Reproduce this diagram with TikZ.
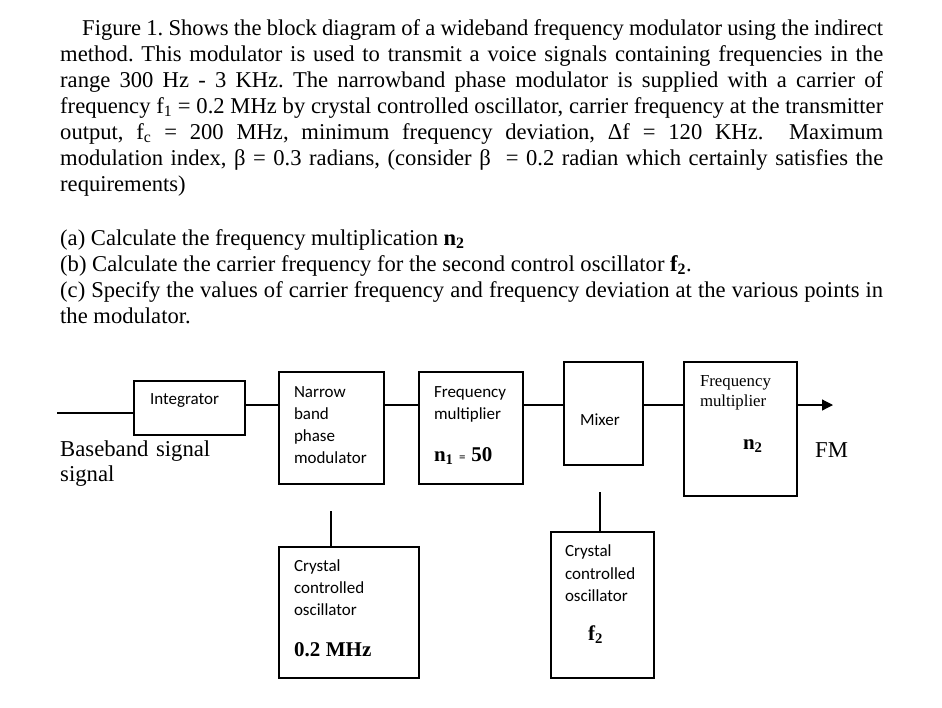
\documentclass[tikz,border=0pt]{standalone}
\usepackage{fontspec}
\setmainfont{Liberation Serif}
\newfontfamily\boxfont{Carlito}
\usetikzlibrary{positioning}
\usetikzlibrary{arrows.meta}
\hyphenpenalty=10000
\exhyphenpenalty=10000
\frenchspacing
\newcommand\boldval[1]{{\rmfamily\bfseries\fontsize{21}{21}\selectfont #1}}

\begin{document}
\begin{tikzpicture}[x=1pt,y=-1pt]

\tikzstyle{block}=[rectangle, draw, line width=1.2pt, inner sep=0pt, align=left, text height=0pt, font=\boxfont\fontsize{17}{22.3}\selectfont]
\tikzstyle{bodytext}=[inner sep=0pt, anchor=base west, font=\fontsize{22.6}{26}\selectfont]
\tikzstyle{wire}=[line width=1.2pt]

\useasboundingbox (0,0) rectangle (942,707);

% text of the task
\node[bodytext, text width=823pt, align=justify] (intro) at (60,35) {\hspace*{22pt}Figure 1. Shows the block diagram of a wideband frequency modulator using the indirect\linebreak
method. This modulator is used to transmit a voice signals containing frequencies in the\linebreak
range 300 Hz - 3 KHz. The narrowband phase modulator is supplied with a carrier of\linebreak
frequency f\textsubscript{1} = 0.2 MHz by crystal controlled oscillator, carrier frequency at the transmitter\linebreak
output, f\textsubscript{c} = 200 MHz, minimum frequency deviation, Δf = 120 KHz.\ \ Maximum\linebreak
modulation index, β = 0.3 radians, (consider β\ \ = 0.2 radian which certainly satisfies the\linebreak
requirements)};
\node[bodytext, text width=823pt, align=justify] (tasks) at (60,245) {(a) Calculate the frequency multiplication \textbf{n\textsubscript{2}}\\
(b) Calculate the carrier frequency for the second control oscillator \textbf{f\textsubscript{2}}.\\
(c) Specify the values of carrier frequency and frequency deviation at the various points in\linebreak
the modulator.};

% blocks
\node[block, minimum width=111pt, minimum height=54pt, text width=79pt, text depth=8pt] (integ) at (189.5,408) {Integrator};
\node[block, minimum width=105pt, minimum height=112pt, text width=75pt, text depth=62pt] (narrow) at (331.5,428) {Narrow\\band\\phase\\modulator};
\node[block, minimum width=104pt, minimum height=112pt, text width=74pt, text depth=62pt] (freq1) at (471,428) {Frequency\\multiplier\\[19.7pt]\boldval{n\textsubscript{1} {\normalfont\boxfont\fontsize{13}{13}\selectfont =} 50}};
\node[block, minimum width=79pt, minimum height=103pt, text width=47pt, text height=23pt, text depth=0pt] (mixer) at (603.5,413.5) {Mixer};
\node[block, minimum width=113pt, minimum height=134pt, text width=81pt, text depth=84.6pt, font=\rmfamily\fontsize{16.8}{20}\selectfont] (freq2) at (740.5,429) {Frequency\\multiplier\\[22.3pt]\hspace*{43pt}\boldval{n\textsubscript{2}}};
\node[block, minimum width=140pt, minimum height=131pt, text width=110pt, text depth=83pt] (xtal1) at (349,612.5) {Crystal\\controlled\\oscillator\\[18.4pt]\boldval{0.2 MHz}};
\node[block, minimum width=103pt, minimum height=146pt, text width=75pt, text depth=96.6pt] (xtal2) at (602.5,605) {Crystal\\controlled\\oscillator\\[16.7pt]\hspace*{23pt}\boldval{f\textsubscript{2}}};

% signal names
\node[bodytext, text width=200pt, font=\fontsize{22.7}{25}\selectfont] (bbtext) at (60,456) {Baseband signal\\signal};
\node[bodytext, font=\fontsize{22.7}{25}\selectfont] (fm) at (815,457) {FM};

\coordinate (sig) at (0,405);
\coordinate (bbin) at (57,413);
\coordinate (fmout) at (833,405);
\coordinate (osc1top) at (331,511);
\coordinate (osc2top) at (600,492);

\draw[wire] (bbin) -- (bbin -| integ.west);
\draw[wire] (integ.east |- sig) -- (narrow.west |- sig);
\draw[wire] (narrow.east |- sig) -- (freq1.west |- sig);
\draw[wire] (freq1.east |- sig) -- (mixer.west |- sig);
\draw[wire] (mixer.east |- sig) -- (freq2.west |- sig);
\draw[wire,-{Triangle[length=11pt,width=11pt]}] (freq2.east |- sig) -- (fmout);
\draw[wire] (osc1top) -- (osc1top |- xtal1.north);
\draw[wire] (osc2top) -- (osc2top |- xtal2.north);

\end{tikzpicture}
\end{document}
